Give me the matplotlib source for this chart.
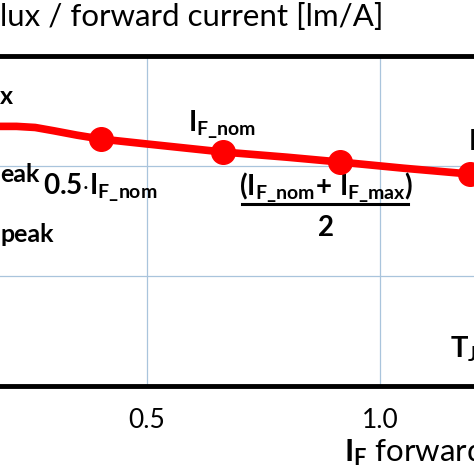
import matplotlib
matplotlib.use("Agg")
import matplotlib.pyplot as plt

plt.rcParams['font.family'] = ['Lato', 'DejaVu Sans']
plt.rcParams['mathtext.fontset'] = 'custom'
plt.rcParams['mathtext.rm'] = 'Lato'
plt.rcParams['mathtext.bf'] = 'Lato:bold'
plt.rcParams['mathtext.it'] = 'Lato:italic'

# curve samples (relative flux per current, arbitrary units)
curve_x = [0.185, 0.22, 0.26, 0.30, 0.35, 0.401, 0.50, 0.663, 0.80, 0.914, 1.05, 1.193, 1.21]
curve_y = [2.36, 2.36, 2.35, 2.32, 2.28, 2.245, 2.20, 2.127, 2.08, 2.036, 1.98, 1.927, 1.92]
point_x = [0.401, 0.663, 0.914, 1.193]
point_y = [2.245, 2.127, 2.036, 1.927]
xticks = [0.5, 1.0]
xtick_labels = ["0.5", "1.0"]

fig = plt.figure(figsize=(4.74, 4.74), dpi=100)
ax = fig.add_axes([0, 0.1857, 1, 0.6962])
ax.set_xlim(0.1845, 1.202)
ax.set_ylim(0, 3)
for s in ['left', 'right']:
    ax.spines[s].set_visible(False)
for s in ['top', 'bottom']:
    ax.spines[s].set_linewidth(3.5)
    ax.spines[s].set_color('black')
ax.set_xticks(xticks)
ax.set_xticklabels(xtick_labels, fontsize=19)
ax.tick_params(axis='x', length=0, pad=16)
ax.set_yticks([1, 2])
ax.set_yticklabels([])
ax.tick_params(axis='y', length=0)
ax.grid(True, color='#a9c4dc', linewidth=0.9)
ax.set_axisbelow(True)

ax.plot(curve_x, curve_y, color='#ff0000', lw=5.5, solid_capstyle='round', clip_on=False, zorder=3)
ax.plot(point_x, point_y, 'o', color='#ff0000', ms=17, clip_on=False, zorder=4)

bold = dict(fontweight='bold', fontsize=18, color='black', clip_on=False)
ax.text(0.1845, 1.92, "eak", ha='left', va='center', **bold)
ax.text(0.1845, 1.38, "peak", ha='left', va='center', **bold)
ax.text(0.1845, 2.63, "x", ha='left', va='center', **bold)
ax.text(0.40, 1.80, r"$\mathbf{0.5{\cdot}I_{F\_nom}}$", ha='center', va='center', fontsize=20, clip_on=False)
ax.text(0.66, 2.38, r"$\mathbf{I_{F\_nom}}$", ha='center', va='center', fontsize=20, clip_on=False)
ax.text(0.885, 1.80, r"$\mathbf{(I_{F\_nom}\!+\,I_{F\_max})}$", ha='center', va='center', fontsize=20, clip_on=False)
ax.plot([0.705, 1.06], [1.65, 1.65], color='black', lw=2.2, clip_on=False)
ax.text(0.885, 1.44, "2", ha='center', va='center', fontweight='bold', fontsize=20, clip_on=False)
ax.text(1.19, 2.22, r"$\mathbf{I}$", ha='left', va='center', fontsize=20, clip_on=False)
ax.text(1.15, 0.33, r"$\mathbf{T_J}$", ha='left', va='center', fontsize=21, clip_on=False)

fig.text(0.0, 0.965, "lux / forward current [lm/A]", ha='left', va='center', fontsize=22.5)
fig.text(0.725, 0.046, r"$\mathbf{I_F}$ forward", ha='left', va='center', fontsize=22.5)

fig.savefig("out.png", dpi=100)
